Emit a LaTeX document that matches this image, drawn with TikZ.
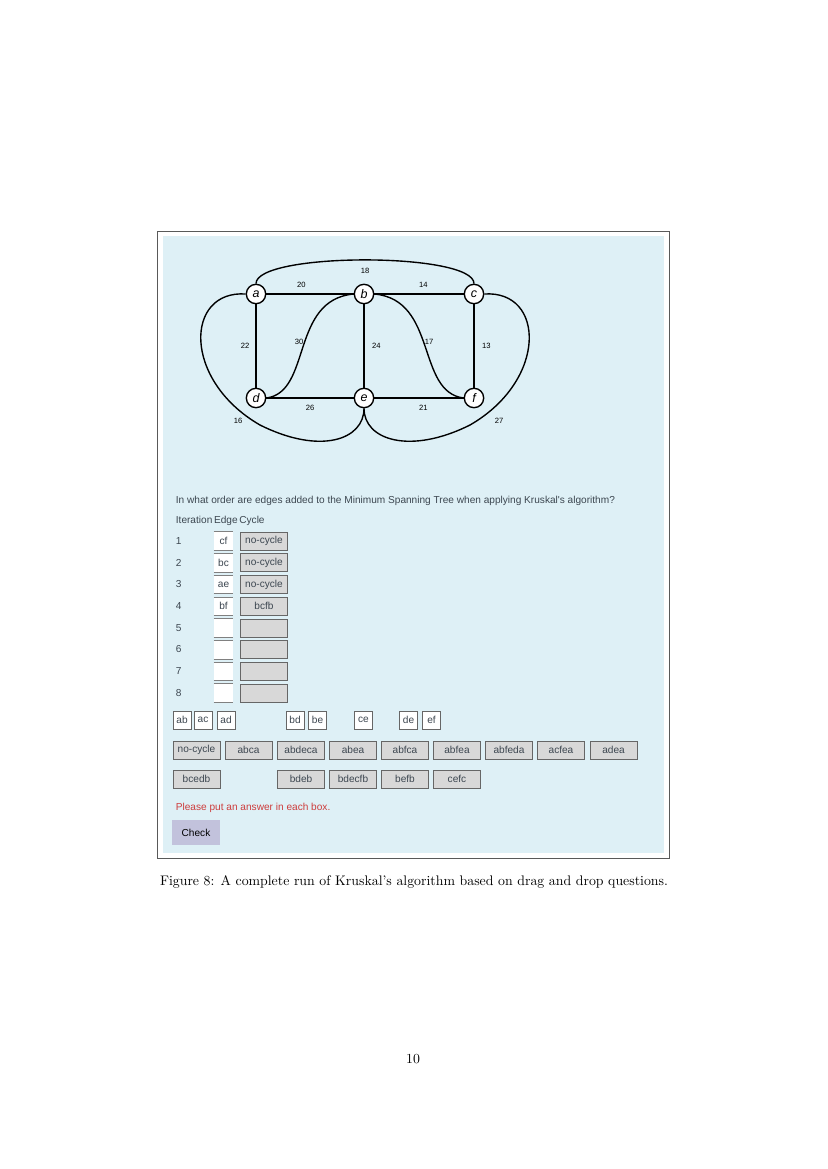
\documentclass[tikz,border=0pt]{standalone}
\usepackage{fontspec}
\newfontfamily\uifont{Liberation Sans}
\usetikzlibrary{positioning}
\definecolor{panel}{RGB}{222,240,246}
\definecolor{chipgrey}{RGB}{216,216,216}
\definecolor{uitext}{RGB}{60,70,80}
\definecolor{warn}{RGB}{205,60,60}
\begin{document}
\begin{tikzpicture}[x=0.7225pt, y=-0.7225pt,
  vertex/.style={draw, circle, fill=white, line width=1pt, minimum size=14pt, inner sep=0pt, font=\uifont\itshape\small},
  edge/.style={line width=1pt},
  weight/.style={font=\uifont\fontsize{5.5}{6}\selectfont},
  ui/.style={font=\uifont\fontsize{7.3}{9}\selectfont, text=uitext},
  chip/.style={draw=gray!80!black, fill=white, minimum height=13pt, inner sep=1pt, ui},
  cyclebox/.style={draw=gray!80!black, fill=chipgrey, minimum height=13pt, inner sep=1pt, ui}]

  \useasboundingbox (0,0) rectangle (827,1169);

  % Frame
  \draw[gray!70!black, fill=white] (157,231) rectangle (669,858);
  \fill[panel] (163,236) rectangle (664,853);

  % Vertices
  \node[vertex] (a) at (256,294) {a};
  \node[vertex] (b) at (364,294) {b};
  \node[vertex] (c) at (474,294) {c};
  \node[vertex] (d) at (256,398) {d};
  \node[vertex] (e) at (364,398) {e};
  \node[vertex] (f) at (474,398) {f};

  % Edges
  \draw[edge] (a) -- node[weight, above=1pt, pos=0.4] {20} (b);
  \draw[edge] (b) -- node[weight, above=1pt, pos=0.55] {14} (c);
  \draw[edge] (a) -- node[weight, left=1pt] {22} (d);
  \draw[edge] (b) -- node[weight, right=2pt] {24} (e);
  \draw[edge] (c) -- node[weight, right=2pt] {13} (f);
  \draw[edge] (d) -- node[weight, below=1pt, pos=0.5] {26} (e);
  \draw[edge] (e) -- node[weight, below=1pt, pos=0.55] {21} (f);
  \draw[edge] (a.north) .. controls (256,252) and (474,252) .. node[weight, below=2pt] {18} (c.north);
  \draw[edge] (d.east) .. controls (312,392) and (290,300) .. (b.west);
  \draw[edge] (b.east) .. controls (438,300) and (416,392) .. (f.west);
  \draw[edge] (a.west) .. controls (185,290) and (182,380) .. (260,425)
    .. controls (320,455) and (364,440) .. (e.south);
  \draw[edge] (c.east) .. controls (545,290) and (548,380) .. (470,425)
    .. controls (410,455) and (364,440) .. (e.south);
  \node[weight] (w30) at (299,342) {30};
  \node[weight] (w17) at (429,342) {17};
  \node[weight] (w16) at (238,421) {16};
  \node[weight] (w27) at (499,421) {27};

  % Question and table
  \node[ui, anchor=west] (q) at (171,501) {In what order are edges added to the Minimum Spanning Tree when applying Kruskal's algorithm?};
  \node[ui, anchor=west] (head) at (171,521) {Iteration\,Edge\,Cycle};
  \foreach \i/\ed/\cy [count=\k] in {1/cf/no-cycle, 2/bc/no-cycle, 3/ae/no-cycle, 4/bf/bcfb, 5//, 6//, 7//, 8//} {
    \pgfmathsetmacro{\yy}{541+21.7*(\k-1)}
    \node[ui, anchor=west] (it\k) at (171,\yy) {\i};
    \node[fill=white, minimum width=14pt, minimum height=13pt, inner sep=0pt, ui] (ed\k) at (223.5,\yy) {\ed};
    \draw[gray] (ed\k.north west) -- (ed\k.north east) (ed\k.south west) -- (ed\k.south east);
    \node[cyclebox, minimum width=34pt] (cy\k) at (264,\yy) {\cy};
  }

  % Edge chips
  \foreach \lab/\xx in {ab/182, ac/203, ad/226, bd/295, be/317.5, ce/363.5, de/408.5, ef/431.5}
    \node[chip, minimum width=13pt] (chip-\lab) at (\xx,720) {\lab};

  % Cycle chips
  \foreach \lab/\xx in {no-cycle/196.5, abca/248.5, abdeca/301, abea/353, abfca/405, abfea/457, abfeda/509, acfea/561, adea/613.5}
    \node[cyclebox, minimum width=34pt] (cyc-\lab) at (\xx,750) {\lab};
  \foreach \lab/\xx in {bcedb/196.5, bdeb/301, bdecfb/353, befb/405, cefc/457}
    \node[cyclebox, minimum width=34pt] (cyc-\lab) at (\xx,779) {\lab};

  % Warning and button
  \node[ui, text=warn, anchor=west] (warning) at (171,808) {Please put an answer in each box.};
  \node[fill=chipgrey!90!blue, minimum width=35pt, minimum height=18pt, ui, text=black] (check) at (196,832.5) {Check};

  % Caption and page number
  \node (caption) at (414,882) {Figure 8: A complete run of Kruskal's algorithm based on drag and drop questions.};
  \node (page) at (413,1059) {10};
\end{tikzpicture}
\end{document}
